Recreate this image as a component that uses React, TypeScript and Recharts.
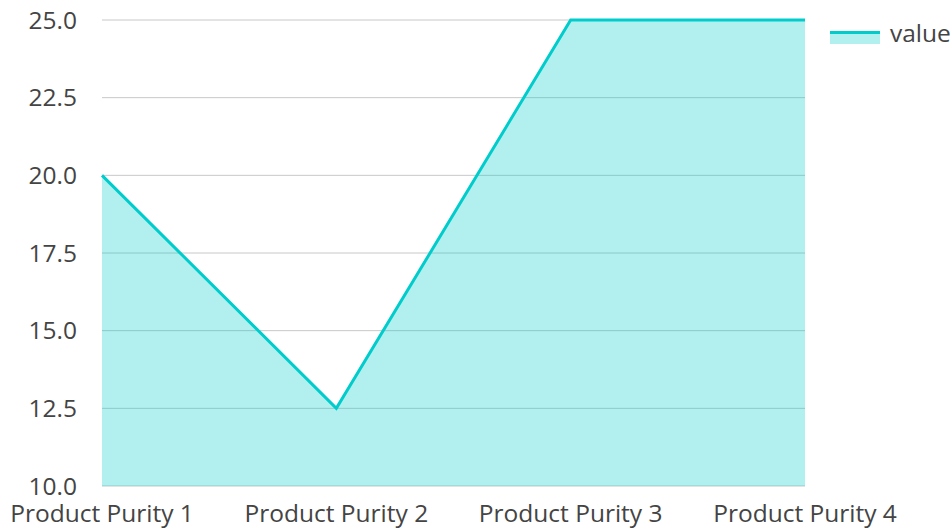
import { AreaChart, Area, XAxis, YAxis, CartesianGrid, Legend } from "recharts"

const categories = ["Product Purity 1", "Product Purity 2", "Product Purity 3", "Product Purity 4"]
const values = [20, 12.5, 25, 25]
const yTicks = [10, 12.5, 15, 17.5, 20, 22.5, 25]

const data = categories.map((name, i) => ({ name, value: values[i] }))

const COLOR = "#00cccc"
const FONT = "'Open Sans', sans-serif"
const FONT_SIZE = 24.5

// legend drawn as a line over a light fill, like the area itself
function LegendContent() {
  return (
    <div style={{ display: "flex", alignItems: "flex-start", fontFamily: FONT, fontSize: FONT_SIZE, lineHeight: 1, color: "#444", whiteSpace: "nowrap" }}>
      <svg width={50} height={13} style={{ marginTop: 10, marginRight: 10, flexShrink: 0 }}>
        <rect x={0} y={0} width={50} height={13} fill={COLOR} fillOpacity={0.3} />
        <rect x={0} y={0} width={50} height={3} fill={COLOR} />
      </svg>
      <span>value</span>
    </div>
  )
}

export default function App() {
  return (
    <div style={{ width: 952, height: 529, overflow: "hidden", position: "relative" }}>
      <style>{"html, body { margin: 0; padding: 0; overflow: hidden; }"}</style>
      <AreaChart width={952} height={529} data={data} margin={{ top: 20, right: 147, left: 0, bottom: 0 }}>
        <CartesianGrid vertical={false} stroke="#c8c8c8" />
        <XAxis
          dataKey="name"
          axisLine={false}
          tickLine={false}
          tickSize={0}
          tickMargin={19}
          height={43}
          interval={0}
          tick={{ fontSize: FONT_SIZE, fill: "#444", fontFamily: FONT }}
        />
        <YAxis
          domain={[10, 25]}
          ticks={yTicks}
          axisLine={false}
          tickLine={false}
          tickSize={0}
          tickMargin={25}
          width={102}
          tickFormatter={(v: number) => v.toFixed(1)}
          tick={{ fontSize: FONT_SIZE, fill: "#444", fontFamily: FONT }}
        />
        <Legend
          layout="horizontal"
          align="center"
          verticalAlign="middle"
          content={<LegendContent />}
          wrapperStyle={{ position: "absolute", top: 21, left: 830, width: 122 }}
        />
        <Area
          type="linear"
          dataKey="value"
          stroke={COLOR}
          strokeWidth={3}
          fill={COLOR}
          fillOpacity={0.3}
          isAnimationActive={false}
        />
      </AreaChart>
    </div>
  )
}
